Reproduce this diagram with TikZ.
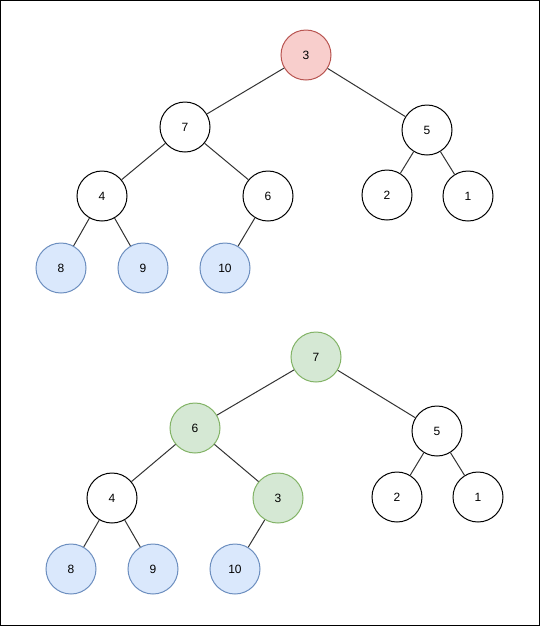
\documentclass[tikz,border=0pt]{standalone}
\usepackage{fontspec}
\setmainfont{Liberation Sans}
\usetikzlibrary{arrows}

\definecolor{redfill}{HTML}{F8CECC}
\definecolor{redline}{HTML}{B85450}
\definecolor{bluefill}{HTML}{DAE8FC}
\definecolor{blueline}{HTML}{6C8EBF}
\definecolor{greenfill}{HTML}{D5E8D4}
\definecolor{greenline}{HTML}{82B366}
\definecolor{linkgray}{HTML}{333333}

\begin{document}
\begin{tikzpicture}[x=0.75pt,y=-0.75pt,every edge/.style={draw=linkgray,line width=0.75pt}]

	\tikzstyle{key}=[circle,draw=black,line width=0.75pt,minimum size=37.5pt,inner sep=0pt,font=\fontsize{9}{11}\selectfont]
	\tikzstyle{moved}=[key,fill=redfill,draw=redline]
	\tikzstyle{leaf}=[key,fill=bluefill,draw=blueline]
	\tikzstyle{swapped}=[key,fill=greenfill,draw=greenline]

	\useasboundingbox (0,0) rectangle (540,626);
	\draw [line width=0.75pt] (0.5,0.5) rectangle (539.5,625.5);

	% before sifting down
	\node [moved] (a3) at (306,55) {3};
	\node [key] (a7) at (185,127) {7} edge (a3);
	\node [key] (a5) at (427,130) {5} edge (a3);
	\node [key] (a4) at (102,196) {4} edge (a7);
	\node [key] (a6) at (268,196) {6} edge (a7);
	\node [key] (a2) at (387,195) {2} edge (a5);
	\node [key] (a1) at (468,196) {1} edge (a5);
	\node [leaf] (a8) at (61,268) {8} edge (a4);
	\node [leaf] (a9) at (143,268) {9} edge (a4);
	\node [leaf] (a10) at (225,268) {10} edge (a6);

	% after sifting down
	\node [swapped] (b7) at (316,357) {7};
	\node [swapped] (b6) at (195,428) {6} edge (b7);
	\node [key] (b5) at (437,431) {5} edge (b7);
	\node [key] (b4) at (112,498) {4} edge (b6);
	\node [swapped] (b3) at (278,498) {3} edge (b6);
	\node [key] (b2) at (397,497) {2} edge (b5);
	\node [key] (b1) at (478,497) {1} edge (b5);
	\node [leaf] (b8) at (71,569) {8} edge (b4);
	\node [leaf] (b9) at (153,569) {9} edge (b4);
	\node [leaf] (b10) at (235,569) {10} edge (b3);
\end{tikzpicture}
\end{document}
